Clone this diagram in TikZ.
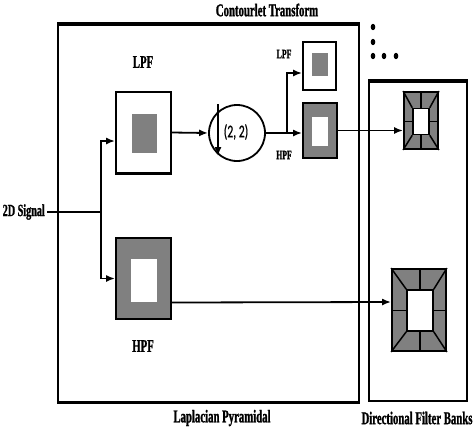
\documentclass[tikz,border=0pt]{standalone}
\usepackage{fontspec}
\setmainfont{Liberation Serif}[FakeStretch=0.6,BoldFeatures={FakeBold=1.2}]
\newfontfamily\numfont{Carlito}[FakeStretch=0.65,FakeBold=0.6]
\usepackage{tikz}
\usetikzlibrary{arrows.meta}
\definecolor{filtergray}{HTML}{808080}

\begin{document}
\begin{tikzpicture}[x=1bp,y=-1bp,>={Latex[length=9bp,width=7bp]},every node/.style={font=\bfseries\fontsize{18}{20}\selectfont,inner sep=0pt},
  frame/.style={draw=black,line width=2bp},
  filterbox/.style={draw=black,line width=1.8bp,rectangle},
  conn/.style={->,line width=1.8bp}]
\useasboundingbox (0,0) rectangle (474,430);
% outer frames
\draw[frame] (58,24) rectangle (359,402);
\draw[line width=3.8bp] (57,24) -- (360,24);
\draw[line width=3bp] (57,402) -- (360,402);
\draw[frame] (369,81) rectangle (467,401);
\draw[line width=3.2bp] (368,81) -- (468,81);
\node (title) at (267,10) {Contourlet Transform};
\node (lplabel) at (222,418) {Laplacian Pyramidal};
\node (dfblabel) at (417,418) {Directional Filter Banks};
% more levels
\foreach \px/\py in {373/27,373/42,373/56,384/56,396/56}
  \fill (\px,\py) ellipse (2.3 and 3.2);
% input
\node[anchor=east,font=\bfseries\fontsize{17}{19}\selectfont] (sig) at (45,212) {2D Signal};
\coordinate (split) at (101,212);
% lowpass branch
\node[filterbox,minimum width=55bp,minimum height=81bp] (lpf) at (143.5,132.5) {};
\draw[line width=3bp] (lpf.south west) -- (lpf.south east);
\node[fill=filtergray,minimum width=25bp,minimum height=39bp] (lpfin) at (144.5,133.5) {};
\node (lpftxt) at (143,62) {LPF};
% highpass branch
\node[filterbox,fill=filtergray,minimum width=55bp,minimum height=81bp] (hpf) at (143.5,278.5) {};
\node[fill=white,minimum width=26bp,minimum height=43bp] (hpfin) at (144,280.5) {};
\node (hpftxt) at (143,346) {HPF};
% downsampler
\node[draw,circle,line width=1.8bp,minimum size=56bp] (down) at (237,133) {};
\node[font=\numfont\fontsize{18}{20}\selectfont] (ratio) at (236,132) {(2, 2)};
\draw[->,line width=1.5bp] (down.north -| 218,0) -- (218,156);
% second level
\node[filterbox,minimum width=33bp,minimum height=48bp] (lpfs) at (319.5,66) {};
\node[fill=filtergray,minimum width=16bp,minimum height=23bp] (lpfsin) at (320,64.5) {};
\node[filterbox,fill=filtergray,minimum width=34bp,minimum height=55bp] (hpfs) at (320,130.5) {};
\node[fill=white,minimum width=16bp,minimum height=29bp] (hpfsin) at (320,131.5) {};
\node[font=\bfseries\fontsize{13}{15}\selectfont] (lpfstxt) at (284,54) {LPF};
\node[font=\bfseries\fontsize{13}{15}\selectfont] (hpfstxt) at (284,155) {HPF};
\coordinate (branch) at (287,133);
% directional filter banks
\node[filterbox,fill=filtergray,minimum width=34bp,minimum height=57bp] (dfbA) at (421,120.5) {};
\node[draw,line width=1.5bp,fill=white,minimum width=16bp,minimum height=26bp] (dfbA-in) at (421,121.5) {};
\node[filterbox,fill=filtergray,minimum width=54bp,minimum height=82bp] (dfbB) at (419,310) {};
\node[draw,line width=1.5bp,fill=white,minimum width=26bp,minimum height=41bp] (dfbB-in) at (420,310.5) {};
\foreach \d in {dfbA,dfbB} {
  \draw[line width=1.5bp] (\d.north west) -- (\d-in.north west);
  \draw[line width=1.5bp] (\d.north east) -- (\d-in.north east);
  \draw[line width=1.5bp] (\d.south west) -- (\d-in.south west);
  \draw[line width=1.5bp] (\d.south east) -- (\d-in.south east);
  \draw[line width=1.5bp] (\d.north -| \d-in.center) -- (\d-in.north);
  \draw[line width=1.5bp] (\d.south -| \d-in.center) -- (\d-in.south);
  \draw[line width=1.5bp] (\d.west |- \d-in.center) -- (\d-in.west);
  \draw[line width=1.5bp] (\d.east |- \d-in.center) -- (\d-in.east);
}
% connectors
\draw[line width=1.8bp] ([xshift=2bp]sig.east) -- (split);
\draw[conn] (split) |- ([yshift=-8.5bp]lpf.west);
\draw[conn] (split) |- (hpf.west);
\draw[conn] (lpf.east) -- (down.west);
\draw[line width=1.8bp] (down.east) -- (branch);
\draw[conn] (branch) -- (hpfs.west |- branch);
\draw[conn] (branch) |- ([yshift=-7bp]lpfs.west);
\draw[conn] (hpfs.east) -- (dfbA.west |- hpfs.east);
\draw[conn] ([yshift=-24bp]hpf.east) -- (dfbB.west |- 0,302);
\end{tikzpicture}
\end{document}
